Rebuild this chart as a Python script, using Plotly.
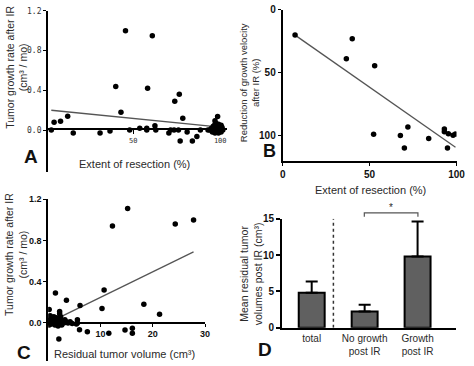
import plotly.graph_objects as go

W, H = 474, 366
def fx(px): return px / W
def fy(py): return 1 - py / H

# ---------------- data ----------------
# Panel A: extent of resection (%) vs tumor growth rate after IR (cm3/mo)
a_x = [3, 4.6, 8.3, 12.4, 15.6, 31, 36.7, 40, 43, 45.6, 48, 53.8, 57.8, 57.8, 58.3, 61, 62.5, 63,
       70.5, 71.5, 73.5, 73.9, 76, 76.5, 77, 78.5, 81, 84, 86.6, 88.6, 93,
       94, 95, 95.5, 96, 96.5, 97, 97, 97.5, 98, 98, 98.5, 99, 99, 99.5, 100, 100, 100.5,
       101, 101, 101.5, 96, 97.5, 99, 100.5, 98.5, 97]
a_y = [0, 0.08, 0.09, 0.14, -0.03, -0.03, -0.01, 0.44, 0.18, 1.0, 0, 0.02, 0.02, 0, 0.42, 0.95, 0.045, 0,
       -0.03, 0, 0, 0.29, 0, 0.36, -0.11, 0.12, -0.02, -0.11, -0.065, 0, 0,
       0.0, 0.02, -0.02, 0.04, 0.01, 0.094, -0.03, 0.05, 0.0, 0.03, 0.137, -0.01, 0.06, 0.02, 0.0, 0.04, -0.02,
       0.01, 0.03, 0.0, -0.01, 0.07, -0.03, 0.05, 0.02, 0.06]
a_fit_x = [3, 100]
a_fit_y = [0.2, 0.03]

# Panel B: extent of resection (%) vs reduction of growth velocity (%)
b_x = [7.1, 40, 36.6, 52.9, 52.3, 67.7, 70, 72, 84, 93, 93, 95.3, 94.8, 98, 99.4]
b_y = [20, 22.8, 38.7, 44.4, 98.7, 99.7, 109.5, 92.8, 102, 94.4, 96.7, 98.2, 109.5, 99.5, 98.5]
b_fit_x = [7.1, 99.4]
b_fit_y = [20, 109]

# Panel C: residual tumor volume (cm3) vs tumor growth rate (cm3/mo)
c_x = [15.2, 12.3, 24.3, 27.8, 10.7, 10.3, 18.3, 21.3, 6.1, 3.5, 1.4, 0.2, 2.2, 2.2, 5.6, 5.4, 6.0, 7.5,
       11.6, 14.7, 16.1, 16.1, 2.05, 5.6,
       0.1, 0.3, 0.5, 0.6, 0.8, 1.0, 1.1, 1.3, 1.5, 1.6, 1.8, 2.0, 2.1, 2.3, 2.5, 2.6, 2.8, 3.0, 3.2,
       3.5, 3.8, 4.2, 0.4, 1.2, 0.2, 2.4, 4.6, 1.9]
c_y = [1.11, 0.94, 0.96, 1.0, 0.32, 0.14, 0.18, 0.085, 0.17, 0.22, 0.29, 0.13, 0.11, 0.09, 0.03, -0.01, -0.066, -0.085,
       -0.1, -0.07, -0.053, -0.1, -0.157, 0.0,
       0.02, 0.0, 0.04, -0.01, 0.03, 0.01, 0.06, -0.02, 0.02, 0.05, 0.0, 0.03, -0.01, 0.04, 0.01, -0.02, 0.02, 0.0, 0.03,
       0.01, 0.0, 0.01, 0.07, 0.04, -0.02, 0.06, -0.005, -0.03]
c_fit_x = [1.5, 27.8]
c_fit_y = [0.037, 0.69]

# Panel D: mean residual tumor volumes post IR (cm3)
d_cats = ["total", "No growth<br>post IR", "Growth<br>post IR"]
d_means = [4.8, 2.23, 9.8]
d_err = [1.57, 0.93, 4.8]

# ---------------- figure ----------------
TXT = "#2a2a2a"
FONT = "Liberation Sans, Arial, sans-serif"
fig = go.Figure()

mk = dict(color="black", size=5.5)
fitline = dict(color="#555555", width=1.3)

fig.add_trace(go.Scatter(x=a_fit_x, y=a_fit_y, mode="lines", line=fitline, xaxis="x", yaxis="y"))
fig.add_trace(go.Scatter(x=a_x, y=a_y, mode="markers", marker=mk, xaxis="x", yaxis="y"))
fig.add_trace(go.Scatter(x=b_fit_x, y=b_fit_y, mode="lines", line=fitline, xaxis="x2", yaxis="y2"))
fig.add_trace(go.Scatter(x=b_x, y=b_y, mode="markers", marker=mk, xaxis="x2", yaxis="y2"))
fig.add_trace(go.Scatter(x=c_fit_x, y=c_fit_y, mode="lines", line=fitline, xaxis="x3", yaxis="y3"))
fig.add_trace(go.Scatter(x=c_x, y=c_y, mode="markers", marker=mk, xaxis="x3", yaxis="y3"))
fig.add_trace(go.Bar(x=[0, 1, 2], y=d_means, width=0.49, xaxis="x4", yaxis="y4",
                     marker=dict(color="#606060", line=dict(color="black", width=2)),
                     error_y=dict(type="data", array=d_err, arrayminus=[0, 0, 0], symmetric=False,
                                  color="black", thickness=2, width=6)))

mono = dict(family="DejaVu Sans Mono, monospace", size=8, color="#333")
bold = lambda s: dict(family="Liberation Sans, Arial", size=s, color="#111", weight="bold")

common = dict(showline=True, linecolor="black", showgrid=False, zeroline=False, ticks="outside",
              tickcolor="black")

fig.update_layout(
    width=W, height=H, margin=dict(l=0, r=0, t=0, b=0),
    paper_bgcolor="white", plot_bgcolor="white", showlegend=False,
    font=dict(family=FONT, color=TXT),
    # A
    xaxis=dict(domain=[fx(46), fx(230)], range=[1, 104], anchor="free", position=fy(127.3),
               tickvals=[50, 100], tickfont=dict(family="DejaVu Sans Mono, monospace", size=7, color="#333"),
               ticklen=4, linewidth=1.5, **common),
    yaxis=dict(domain=[fy(171), fy(5)], range=[-0.42, 1.2], anchor="x",
               tickvals=[0, 0.4, 0.8, 1.2], ticktext=["0.0", "0.4", "0.8", "1.2"],
               tickfont=mono, ticklen=3, linewidth=1.5, **common),
    # B
    xaxis2=dict(domain=[fx(287), fx(465.3)], range=[0, 100], anchor="y2",
                tickvals=[0, 50, 100], tickfont=bold(10), ticklen=3, linewidth=2, **common),
    yaxis2=dict(domain=[fy(160), fy(4)], range=[120, 0], anchor="x2",
                tickvals=[0, 50, 100], tickfont=bold(10), ticklen=3, linewidth=2, **common),
    # C
    xaxis3=dict(domain=[fx(46.3), fx(207.3)], range=[0, 30], anchor="free", position=fy(326.7),
                tickvals=[10, 20, 30], tickfont=bold(9), ticklen=3, linewidth=1.5, **common),
    yaxis3=dict(domain=[0, fy(199.3)], range=[-0.37, 1.2], anchor="x3",
                tickvals=[0, 0.4, 0.8, 1.2], ticktext=["0.0", "0.4", "0.8", "1.2"],
                tickfont=bold(9), ticklen=3, linewidth=1.5, **common),
    # D
    xaxis4=dict(domain=[fx(286.3), fx(465)], range=[-0.56, 2.73], anchor="y4",
                showline=True, linecolor="black", linewidth=2, showgrid=False, zeroline=False,
                ticks="", tickvals=[0, 1, 2], ticktext=d_cats,
                tickfont=dict(family=FONT, size=10, color=TXT)),
    yaxis4=dict(domain=[fy(331.7), fy(219.3)], range=[0, 15], anchor="x4",
                tickvals=[0, 5, 10, 15], tickfont=bold(10), ticklen=4, tickwidth=2, linewidth=2, **common),
)

# dotted separator and significance bracket in panel D
fig.add_shape(type="line", xref="x4", yref="y4", x0=0.41, x1=0.41, y0=0, y1=15,
              line=dict(color="#333", width=1.5, dash="dot"))
fig.add_shape(type="path", xref="paper", yref="paper",
              path=f"M {fx(370.7)} {fy(217.3)} L {fx(370.7)} {fy(213.3)} L {fx(425.7)} {fy(213.3)} L {fx(425.7)} {fy(217.3)}",
              line=dict(color="#555", width=1.2))

def ann(text, px, py, size, angle=0, b=False, color=TXT):
    fig.add_annotation(text=text, x=fx(px), y=fy(py), xref="paper", yref="paper", showarrow=False,
                       textangle=angle, xanchor="center", yanchor="middle",
                       font=dict(family=FONT, size=size, color=color, weight="bold" if b else "normal"))

ann("*", 398.3, 208, 10)
# axis titles
ann("Tumor growth rate after IR<br>(cm³ / mo)", 14, 63, 10.5, -90)
ann("Extent of resection (%)", 135, 163, 11)
ann("Reduction of growth velocity<br>after IR (%)", 253, 79, 9.5, -90)
ann("Extent of resection (%)", 377, 190, 11)
ann("Tumor growth rate after IR<br>(cm³ / mo)", 14, 256, 10.5, -90)
ann("Residual tumor volume (cm³)", 125, 359, 11)
ann("Mean residual tumor<br>volumes post IR (cm³)", 254, 276, 10.5, -90)
# panel letters
ann("A", 29, 155, 19, b=True, color="#111")
ann("B", 273, 150, 18, b=True, color="#111")
ann("C", 22, 357, 19, b=True, color="#111")
ann("D", 269, 354, 19, b=True, color="#111")

fig.write_html("out.html", config={"displayModeBar": False},
               post_script="document.body.style.margin='0';document.body.style.overflow='hidden';")
